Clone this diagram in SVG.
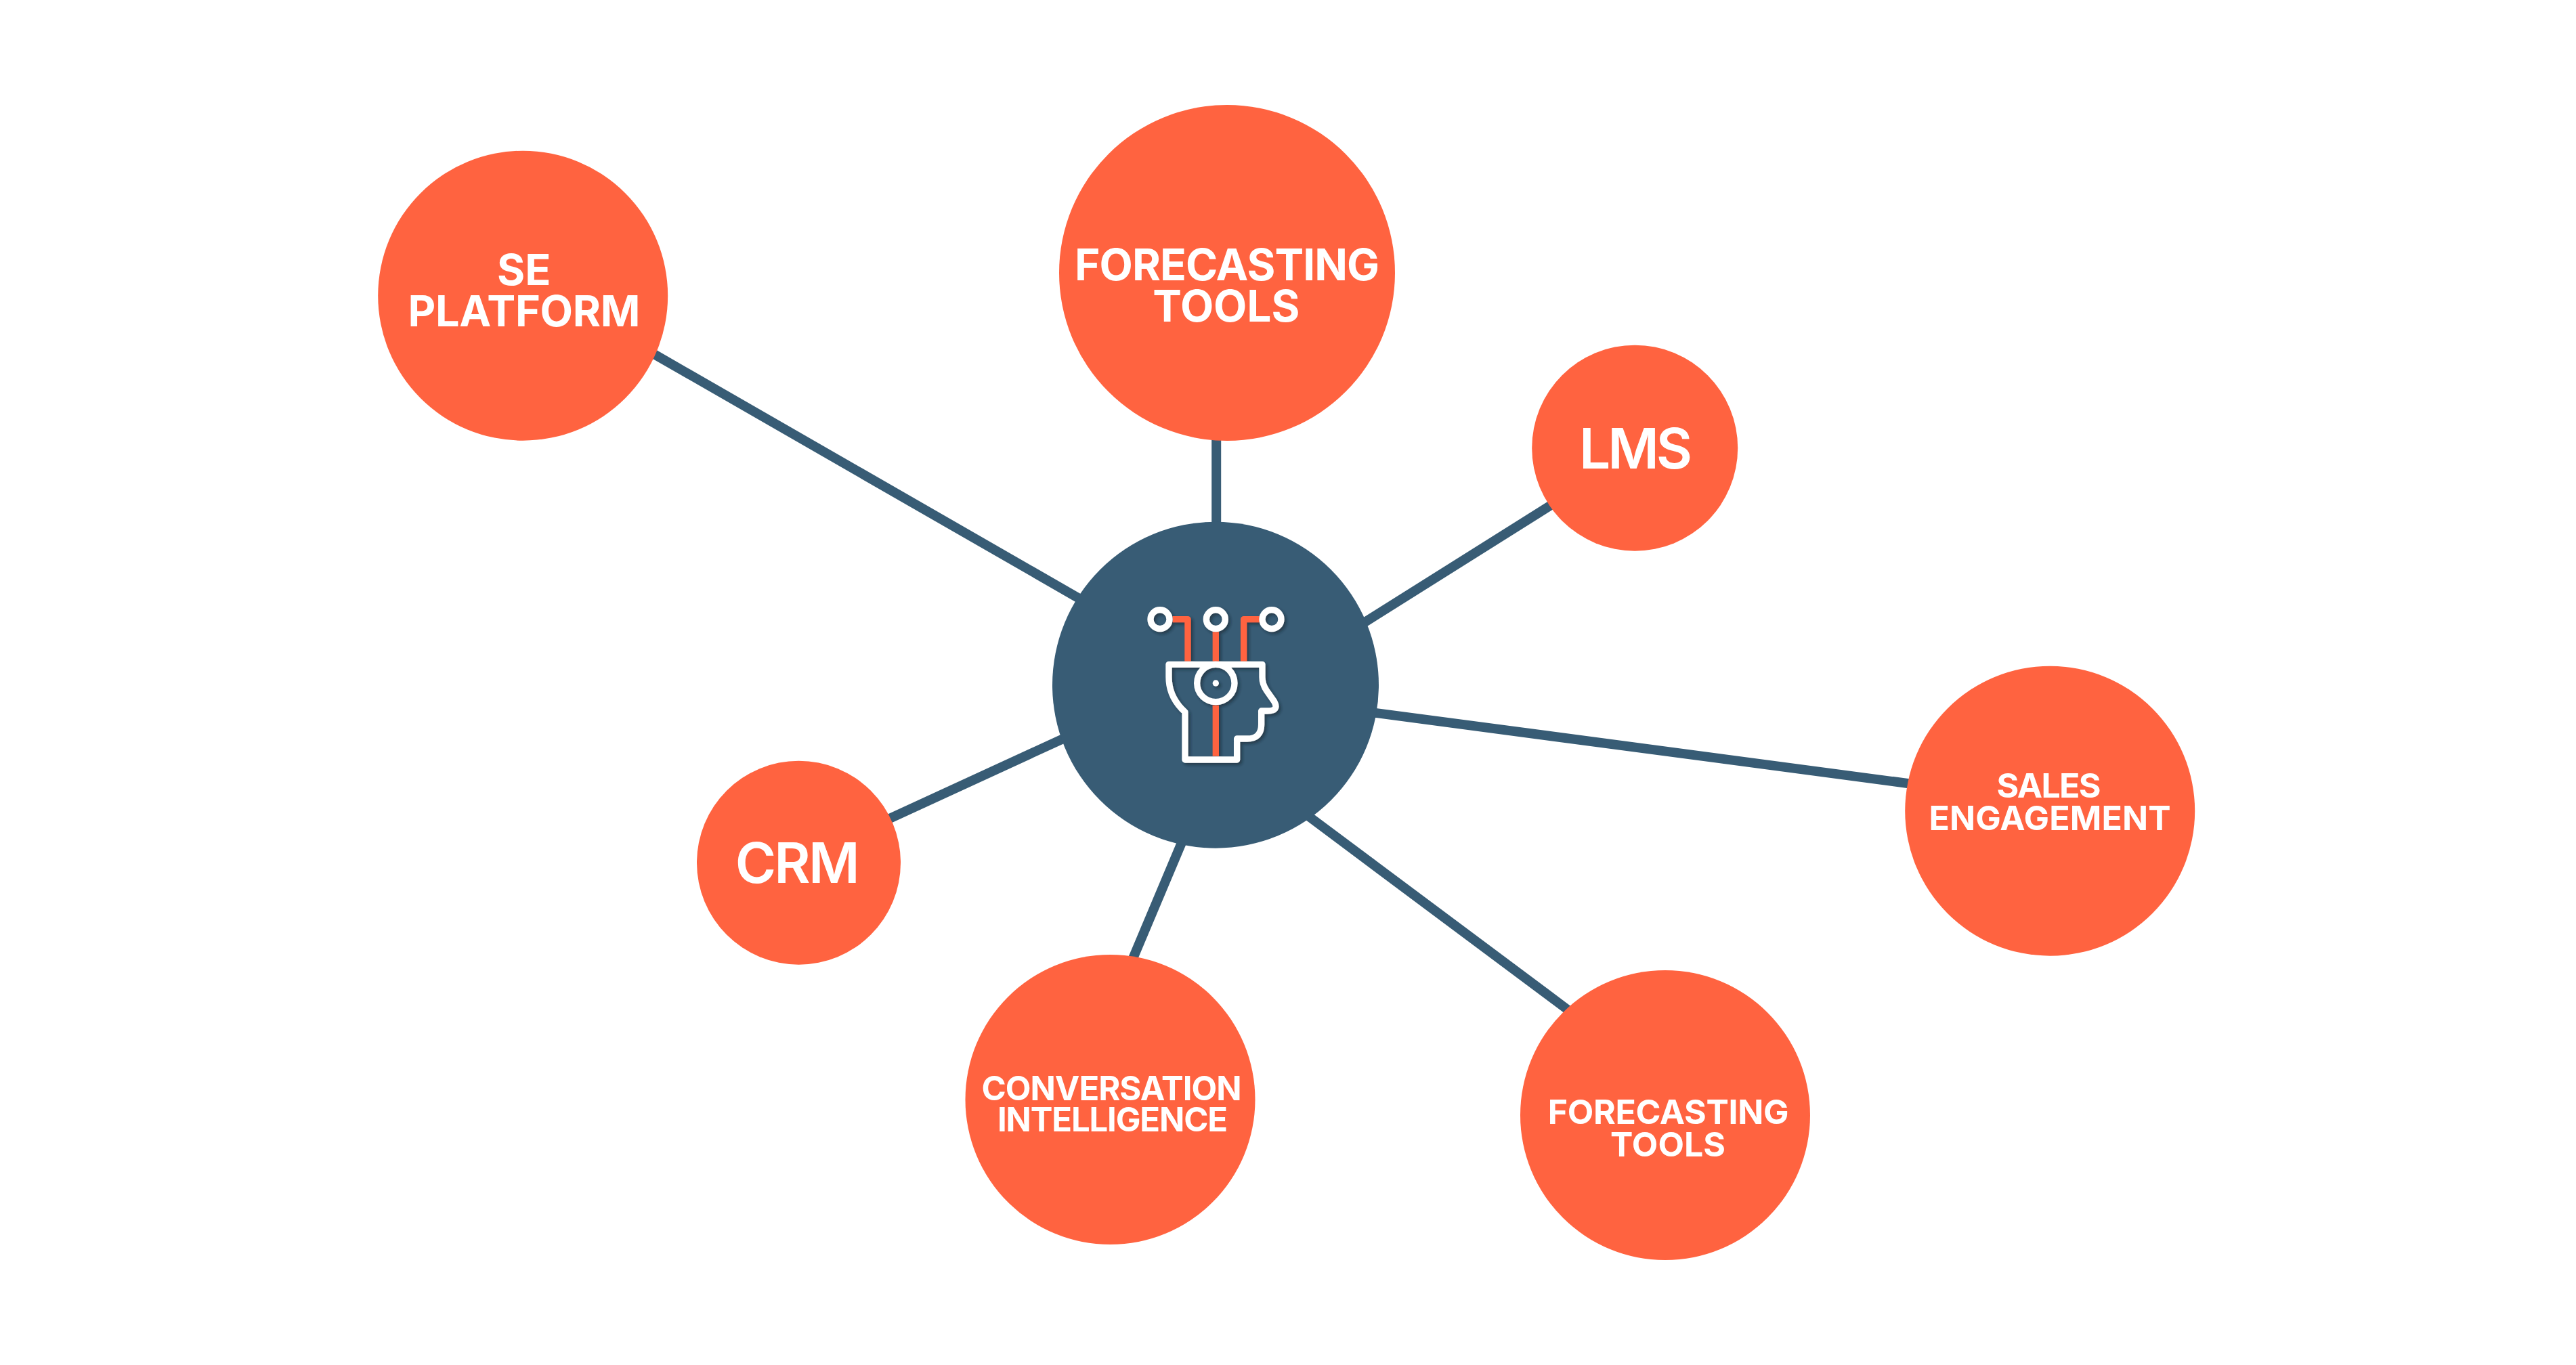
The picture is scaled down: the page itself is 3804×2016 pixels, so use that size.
<svg xmlns="http://www.w3.org/2000/svg" width="3804" height="2016" viewBox="0 0 3804 2016">
<style>
.node{fill:#ff6340}
.hub{fill:#385c75}
.c{stroke:#385c75;stroke-width:14;fill:none}
.t{font-family:Inter,"Liberation Sans",sans-serif;font-weight:700;fill:#fff;text-anchor:middle}
.m{font-weight:600}
.w{fill:none;stroke:#fff;stroke-width:28;stroke-linejoin:round}
.o{fill:none;stroke:#ff6340;stroke-width:28;stroke-linejoin:round}
</style>
<defs><filter id="sh" x="-20%" y="-20%" width="150%" height="150%"><feDropShadow dx="9" dy="9" stdDeviation="7" flood-color="#14222c" flood-opacity="0.55"/></filter></defs>
<rect width="3804" height="2016" fill="#fff"/>
<g id="connectors">
<line class="c" x1="960" y1="519.6" x2="1600" y2="887.6"/>
<line class="c" x1="1796.2" y1="640" x2="1796.2" y2="780"/>
<line class="c" x1="2300" y1="740" x2="2005" y2="925.5"/>
<line class="c" x1="2830" y1="1158.7" x2="2030" y2="1052.7"/>
<line class="c" x1="2320" y1="1495" x2="1925" y2="1200"/>
<line class="c" x1="1660.6" y1="1445" x2="1749" y2="1235"/>
<line class="c" x1="1290" y1="1219.8" x2="1590" y2="1081.8"/>
</g>
<g id="hub"><circle class="hub" cx="1795" cy="1011.7" r="241"/>
<g transform="translate(1640 860) scale(.3333)" filter="url(#sh)">
<path class="o" d="M275 164H342V350M466 220V350M659 164H590V350M466 545V770"/>
<circle class="w" cx="219" cy="164" r="42"/><circle class="w" cx="466" cy="164" r="42"/><circle class="w" cx="714" cy="164" r="42"/>
<path class="w" d="M258 364H672V420Q672 450 690 478L725 528Q748 570 695 570H668V630Q668 693 605 693H560V786H330V575Q258 510 258 420Z"/>
<circle class="w" cx="466" cy="447" r="83"/><circle cx="466" cy="447" r="14" fill="#fff"/>
</g></g>
<g id="n-se"><circle class="node" cx="772.2" cy="436.7" r="214"/><text class="t" font-size="63"><tspan x="773.7" y="420.7">SE</tspan><tspan x="774" y="481.7" textLength="343">PLATFORM</tspan></text></g>
<g id="n-forecast-top"><circle class="node" cx="1812" cy="403" r="248"/><text class="t" font-size="64"><tspan x="1812" y="414" textLength="450">FORECASTING</tspan><tspan x="1810.8" y="475" textLength="217">TOOLS</tspan></text></g>
<g id="n-lms"><circle class="node" cx="2414.2" cy="661.7" r="152"/><text class="t m" font-size="82" x="2415.5" y="692.3" textLength="167">LMS</text></g>
<g id="n-sales"><circle class="node" cx="3027.2" cy="1197.7" r="214"/><text class="t" font-size="50"><tspan x="3025.5" y="1177.7" textLength="154">SALES</tspan><tspan x="3027" y="1226" textLength="357">ENGAGEMENT</tspan></text></g>
<g id="n-forecast-bottom"><circle class="node" cx="2459" cy="1647" r="214"/><text class="t" font-size="50"><tspan x="2463.7" y="1660" textLength="355.7">FORECASTING</tspan><tspan x="2463" y="1707.7" textLength="170">TOOLS</tspan></text></g>
<g id="n-conversation"><circle class="node" cx="1639.5" cy="1624" r="214"/><text class="t" font-size="49"><tspan x="1641.5" y="1625" textLength="384">CONVERSATION</tspan><tspan x="1643" y="1670.7" textLength="340">INTELLIGENCE</tspan></text></g>
<g id="n-crm"><circle class="node" cx="1179.5" cy="1274.2" r="150.5"/><text class="t m" font-size="82" x="1177.7" y="1304" textLength="184">CRM</text></g>
</svg>
